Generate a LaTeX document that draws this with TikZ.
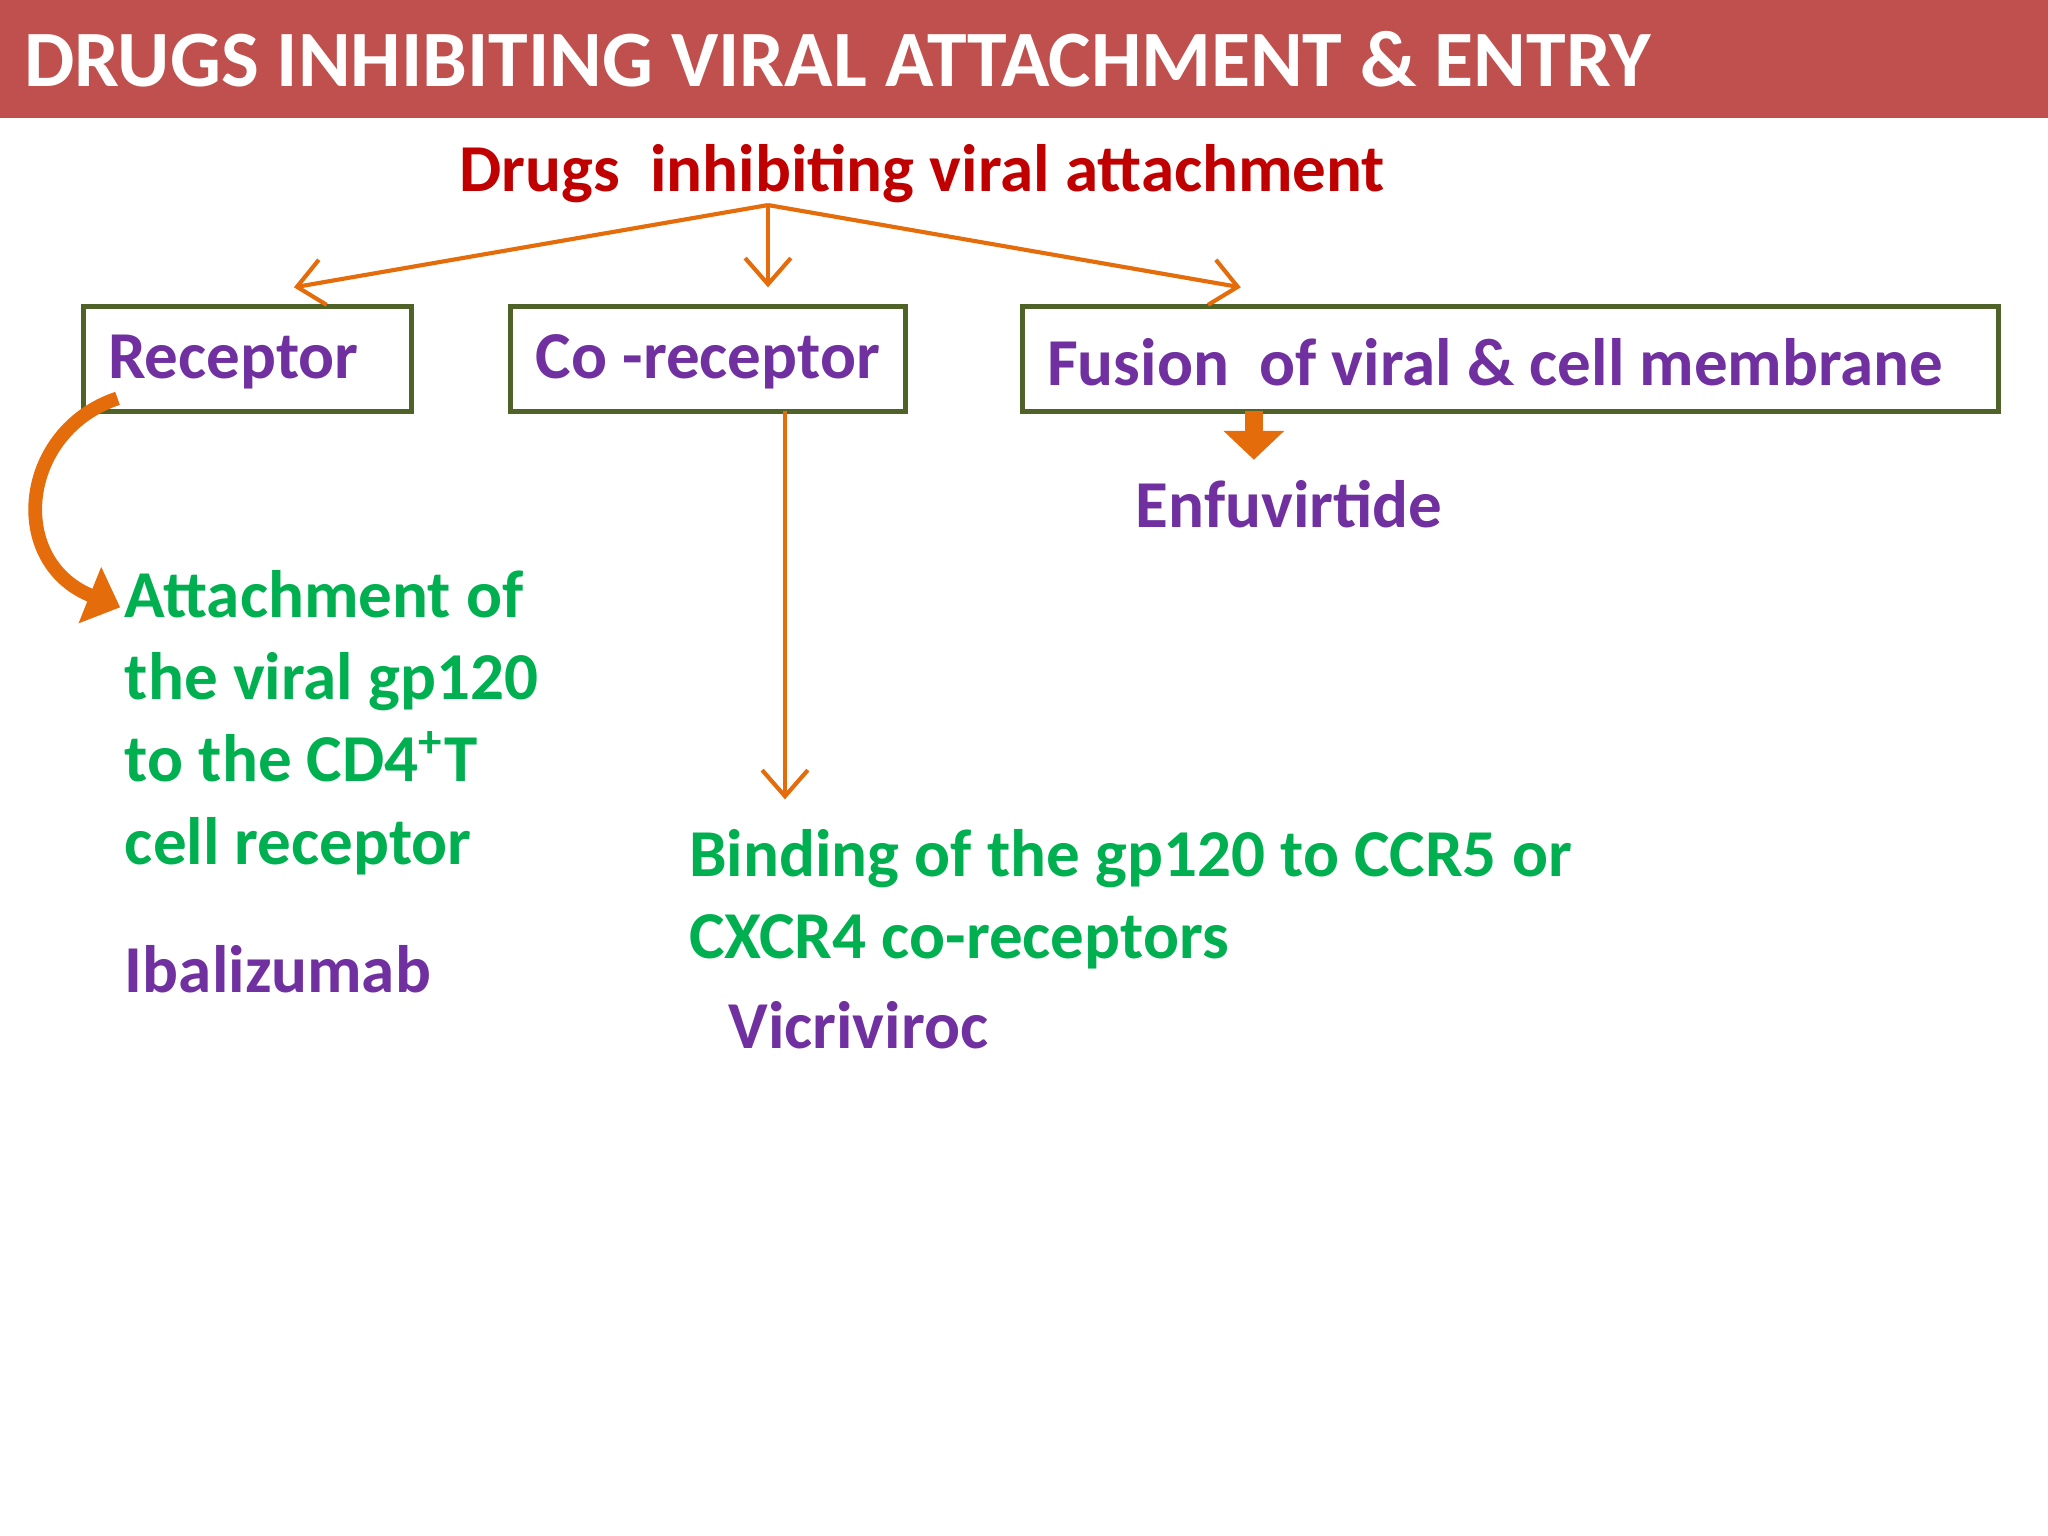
\documentclass[tikz,border=0pt]{standalone}
\usepackage{fontspec}
\setmainfont{Carlito}
\usepackage{tikz}
\usetikzlibrary{arrows.meta}
\definecolor{barred}{HTML}{C0504D}
\definecolor{headred}{HTML}{C00000}
\definecolor{boxgreen}{HTML}{4F6228}
\definecolor{txtpurple}{HTML}{7030A0}
\definecolor{txtgreen}{HTML}{00B050}
\definecolor{arrorange}{HTML}{E46C0A}
\tikzset{
  big/.style={font=\fontsize{14.6}{17.9}\selectfont\bfseries, inner sep=0pt},
  box/.style={draw=boxgreen, line width=1.1pt, minimum height=0.8cm, inner sep=0pt},
  arr/.style={draw=arrorange, line width=0.9pt, -{Straight Barb[length=2mm,width=3.5mm]}}
}
\begin{document}
\begin{tikzpicture}[x=0.01cm,y=0.01cm]
\useasboundingbox (0,0) rectangle (1568,-1176);
\fill [barred] (0,0) rectangle (1568,-90);
\node [anchor=west, white, inner sep=0pt, font=\fontsize{17.4}{20}\selectfont\bfseries] (title) at (18,-45) {DRUGS INHIBITING VIRAL ATTACHMENT \& ENTRY};
\node [big, headred] (head) at (706,-133) {Drugs\ \ inhibiting viral attachment};
\node [box, minimum width=2.51cm] (rec) at (189.5,-275) {};
\node [big, txtpurple, anchor=west] at (82,-277) {Receptor};
\node [box, minimum width=3.02cm] (corec) at (542,-275) {};
\node [big, txtpurple] at (542,-277) {Co -receptor};
\node [box, minimum width=7.47cm] (fus) at (1156.5,-275) {};
\node [big, txtpurple, anchor=west] at (801,-277) {Fusion\ \ of viral \& cell membrane};
\coordinate (top) at (588,-157);
\coordinate (a1) at (225,-220);
\coordinate (a2) at (588,-220);
\coordinate (a3) at (950,-220);
\draw [arr] (top) -- (a1);
\draw [arr] (top) -- (a2);
\draw [arr] (top) -- (a3);
\node [big, txtpurple] (enf) at (987,-386) {Enfuvirtide};
\coordinate (fs) at (960,-315);
\coordinate (fe) at (960,-352);
\draw [arrorange, line width=4pt, -{Triangle[length=2.2mm,width=4.5mm]}] (fs) -- (fe);
\node [big, txtgreen, anchor=north west, align=left] (att) at (95,-436)
  {Attachment of\\the viral gp120\\to the CD4\textsuperscript{+}T\\cell receptor};
\node [big, txtpurple, anchor=west] (iba) at (95,-742) {Ibalizumab};
\coordinate (cs) at (90,-305);
\coordinate (cend) at (92,-465);
\draw [arrorange, line width=3pt, -{Triangle[length=2.5mm,width=4.5mm]}] (cs) .. controls (15,-330) and (5,-430) .. (cend);
\coordinate (ls) at (601,-315);
\coordinate (le) at (601,-612);
\draw [arr] (ls) -- (le);
\node [big, txtgreen, anchor=north west, align=left] (bind) at (527,-634)
  {Binding of the gp120 to CCR5 or\\CXCR4 co-receptors};
\node [big, txtpurple, anchor=west] (vic) at (557,-785) {Vicriviroc};
\end{tikzpicture}
\end{document}
